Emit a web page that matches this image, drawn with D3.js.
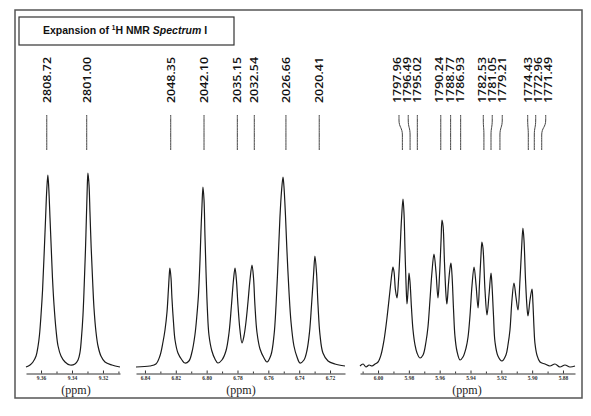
<!DOCTYPE html>
<html>
<head>
<meta charset="utf-8">
<script src="https://cdn.jsdelivr.net/npm/d3@7"></script>
<style>
  body { margin: 0; background: #fff; }
</style>
</head>
<body>
<script>
// ---- data: [ppm, intensity] ----
const leftSpectrum = [
  [9.3697,1],[9.3671,3],[9.3652,6],[9.3632,12],[9.3619,22],[9.3610,33],[9.3600,53],
  [9.3590,78],[9.3581,110],[9.3571,148],[9.3563,178],[9.3556,193],[9.3550,180],
  [9.3542,150],[9.3534,120],[9.3526,90],[9.3516,63],[9.3503,38],[9.3490,22],
  [9.3471,12],[9.3445,6],[9.3413,3],[9.3381,4],[9.3361,8],[9.3348,16],[9.3339,30],
  [9.3329,53],[9.3321,83],[9.3313,118],[9.3306,156],[9.3301,183],[9.3297,195],
  [9.3290,183],[9.3284,156],[9.3276,120],[9.3267,88],[9.3258,60],[9.3245,36],
  [9.3232,22],[9.3213,12],[9.3187,6],[9.3142,3],[9.3090,1]
];
const midSpectrum = [
  [6.8458,1],[6.8368,2],[6.8329,4],[6.8303,12],[6.8283,26],[6.8270,38],[6.8257,56],
  [6.8248,78],[6.8241,96],[6.8238,100],[6.8231,90],[6.8225,70],[6.8215,46],[6.8205,28],
  [6.8186,15],[6.8160,8],[6.8141,5],[6.8115,7],[6.8095,16],[6.8076,33],[6.8063,53],
  [6.8053,73],[6.8043,108],[6.8037,136],[6.8030,163],[6.8024,181],[6.8017,168],
  [6.8011,133],[6.8004,96],[6.7995,58],[6.7985,33],[6.7966,17],[6.7946,9],[6.7927,5],
  [6.7901,8],[6.7875,17],[6.7855,35],[6.7839,63],[6.7826,88],[6.7816,100],[6.7807,88],
  [6.7797,63],[6.7784,38],[6.7771,25],[6.7758,32],[6.7745,46],[6.7732,66],[6.7719,88],
  [6.7706,103],[6.7696,90],[6.7687,63],[6.7674,36],[6.7654,19],[6.7628,10],[6.7609,6],
  [6.7583,13],[6.7563,33],[6.7550,63],[6.7537,106],[6.7525,150],[6.7515,176],
  [6.7505,191],[6.7499,182],[6.7489,153],[6.7479,116],[6.7466,76],[6.7453,46],
  [6.7434,22],[6.7414,11],[6.7395,5],[6.7369,8],[6.7349,18],[6.7333,36],[6.7320,63],
  [6.7307,93],[6.7298,112],[6.7288,96],[6.7278,63],[6.7265,33],[6.7246,15],[6.7213,7],
  [6.7168,4],[6.7103,2]
];
const rightSpectrum = [
  [6.0117,2],[6.0097,4],[6.0078,1],[6.0058,3],[6.0039,2],[6.0019,4],[6.0000,6],
  [5.9981,13],[5.9961,28],[5.9942,50],[5.9922,78],[5.9909,96],[5.9903,101],[5.9896,96],
  [5.9887,78],[5.9877,70],[5.9867,88],[5.9857,118],[5.9848,148],[5.9838,169],[5.9831,153],
  [5.9825,118],[5.9818,83],[5.9812,64],[5.9805,78],[5.9799,95],[5.9792,85],[5.9783,60],
  [5.9773,38],[5.9760,23],[5.9747,15],[5.9728,10],[5.9708,13],[5.9689,26],[5.9676,41],
  [5.9663,68],[5.9650,96],[5.9637,114],[5.9624,96],[5.9611,70],[5.9601,93],[5.9591,128],
  [5.9585,148],[5.9578,142],[5.9569,106],[5.9559,73],[5.9553,64],[5.9543,84],[5.9533,100],
  [5.9527,105],[5.9520,93],[5.9510,58],[5.9501,32],[5.9488,17],[5.9468,8],[5.9449,11],
  [5.9429,20],[5.9416,31],[5.9403,53],[5.9390,83],[5.9377,101],[5.9364,83],[5.9351,60],
  [5.9342,83],[5.9332,113],[5.9326,126],[5.9319,120],[5.9306,78],[5.9293,53],[5.9280,73],
  [5.9267,95],[5.9261,84],[5.9251,53],[5.9241,26],[5.9222,12],[5.9196,7],[5.9170,13],
  [5.9157,23],[5.9144,38],[5.9131,68],[5.9118,85],[5.9105,71],[5.9092,58],[5.9079,88],
  [5.9069,118],[5.9060,140],[5.9053,128],[5.9043,88],[5.9034,62],[5.9027,52],[5.9014,68],
  [5.9001,79],[5.8995,65],[5.8988,40],[5.8982,25],[5.8969,13],[5.8949,6],[5.8917,4],
  [5.8885,2],[5.8852,4],[5.8820,1],[5.8787,3],[5.8755,1],[5.8722,2]
];

// peak labels (Hz), where the label text sits, and the marker line ends (ppm)
const leftPeakHz = ["2808.72", "2801.00"];
const leftPeakText = [9.3563, 9.3305];
const leftPeakTop = [9.3563, 9.3305];
const leftPeakBottom = [9.3563, 9.3305];

const midPeakHz = ["2048.35", "2042.10", "2035.15", "2032.54", "2026.66", "2020.41"];
const midPeakText = [6.8233, 6.8017, 6.7801, 6.7691, 6.7486, 6.7270];
const midPeakTop = [6.8233, 6.8017, 6.7801, 6.7691, 6.7486, 6.7270];
const midPeakBottom = [6.8233, 6.8017, 6.7801, 6.7691, 6.7486, 6.7270];

const rightPeakHz = ["1797.96", "1796.49", "1795.02", "1790.24", "1788.77", "1786.93",
                     "1782.53", "1781.05", "1779.21", "1774.43", "1772.96", "1771.49"];
const rightPeakText = [5.9879, 5.9814, 5.9749, 5.9602, 5.9533, 5.9468,
                       5.9323, 5.9259, 5.9198, 5.9029, 5.8960, 5.8895];
const rightPeakTop = [5.9864, 5.9804, 5.9745, 5.9593, 5.9529, 5.9464,
                      5.9317, 5.9259, 5.9194, 5.9029, 5.8977, 5.8912];
const rightPeakBottom = [5.9842, 5.9792, 5.9745, 5.9593, 5.9529, 5.9464,
                         5.9313, 5.9267, 5.9209, 5.9025, 5.8986, 5.8938];

// axis ticks (ppm)
const leftMajor = [9.36, 9.34, 9.32];
const leftMinor = [9.35, 9.33, 9.31];
const midMajor = [6.84, 6.82, 6.80, 6.78, 6.76, 6.74, 6.72];
const midMinor = [6.83, 6.81, 6.79, 6.77, 6.75, 6.73];
const rightMajor = [6.00, 5.98, 5.96, 5.94, 5.92, 5.90, 5.88];
const rightMinor = [6.01, 5.99, 5.97, 5.95, 5.93, 5.91, 5.89];

const leftDomain = [9.3697, 9.3090];
const midDomain = [6.8458, 6.7103];
const rightDomain = [6.0117, 5.8722];

const titleText = "Expansion of ";
const axisLabel = "(ppm)";

// ---- layout ----
const width = 591, height = 416;
const axisY = 373.5;

const panels = [
  {spec: leftSpectrum, domain: leftDomain, range: [26, 120], major: leftMajor, minor: leftMinor,
   hz: leftPeakHz, text: leftPeakText, top: leftPeakTop, bottom: leftPeakBottom, labelX: 76},
  {spec: midSpectrum, domain: midDomain, range: [136, 345], major: midMajor, minor: midMinor,
   hz: midPeakHz, text: midPeakText, top: midPeakTop, bottom: midPeakBottom, labelX: 241},
  {spec: rightSpectrum, domain: rightDomain, range: [360, 575], major: rightMajor, minor: rightMinor,
   hz: rightPeakHz, text: rightPeakText, top: rightPeakTop, bottom: rightPeakBottom, labelX: 467}
];

const svg = d3.select("body").append("svg")
  .attr("width", width)
  .attr("height", height)
  .attr("viewBox", [0, 0, width, height]);

// outer frame
svg.append("rect")
  .attr("x", 15).attr("y", 10)
  .attr("width", 567).attr("height", 388)
  .attr("fill", "none")
  .attr("stroke", "#555")
  .attr("stroke-width", 1.5);

// title box
svg.append("rect")
  .attr("x", 19).attr("y", 17)
  .attr("width", 215).attr("height", 28)
  .attr("fill", "none")
  .attr("stroke", "#333")
  .attr("stroke-width", 1.2);

const title = svg.append("text")
  .attr("x", 43).attr("y", 34)
  .style("font-family", "'Liberation Sans', Arial, sans-serif")
  .style("font-weight", "bold")
  .style("font-size", "10.5px")
  .attr("fill", "#111");
title.append("tspan").text(titleText);
title.append("tspan").attr("dy", -4).style("font-size", "6.5px").text("1");
title.append("tspan").attr("dy", 4).text("H NMR ");
title.append("tspan").style("font-style", "italic").text("Spectrum");
title.append("tspan").text(" I");

const y_scale = d3.scaleLinear().domain([0, 195]).range([368, 173]);

const bump = d3.line().curve(d3.curveBumpY);

panels.forEach(p => {
  const x_scale = d3.scaleLinear().domain(p.domain).range(p.range);

  // spectrum trace
  const line_generator = d3.line()
    .x(d => x_scale(d[0]))
    .y(d => y_scale(d[1]))
    .curve(d3.curveCatmullRom.alpha(0.5));

  svg.append("path")
    .datum(p.spec)
    .attr("fill", "none")
    .attr("stroke", "#1a1a1a")
    .attr("stroke-width", 1.2)
    .attr("stroke-linejoin", "round")
    .attr("d", line_generator);

  // major ticks + labels
  const x_axis = d3.axisBottom(x_scale)
    .tickValues(p.major)
    .tickSizeInner(-3)
    .tickSizeOuter(0)
    .tickPadding(3)
    .tickFormat(d3.format(".2f"));

  const gx = svg.append("g")
    .attr("transform", `translate(0,${axisY})`)
    .call(x_axis);
  gx.select(".domain").attr("stroke", "#333").attr("stroke-width", 1);
  gx.selectAll(".tick line").attr("stroke", "#333");
  gx.selectAll(".tick text")
    .style("font-family", "'Liberation Serif', 'Times New Roman', serif")
    .style("font-size", "5.5px")
    .style("font-weight", "bold")
    .attr("fill", "#333");

  // minor ticks
  const minor_axis = d3.axisBottom(x_scale)
    .tickValues(p.minor.filter(v => v <= p.domain[0] && v >= p.domain[1]))
    .tickSizeInner(-2)
    .tickSizeOuter(0)
    .tickFormat("");
  const gm = svg.append("g")
    .attr("transform", `translate(0,${axisY})`)
    .call(minor_axis);
  gm.select(".domain").remove();
  gm.selectAll(".tick line").attr("stroke", "#333");

  // (ppm)
  svg.append("text")
    .attr("x", p.labelX)
    .attr("y", 394)
    .attr("text-anchor", "middle")
    .style("font-family", "'Liberation Serif', 'Times New Roman', serif")
    .style("font-size", "12px")
    .attr("fill", "#222")
    .text(axisLabel);

  // peak marker lines and rotated Hz labels
  p.hz.forEach((hz, i) => {
    const xt = x_scale(p.top[i]), xb = x_scale(p.bottom[i]);
    svg.append("path")
      .attr("fill", "none")
      .attr("stroke", "#444")
      .attr("stroke-width", 1)
      .attr("d", bump([[xt, 115], [xt, 120], [xb, 135], [xb, 150]]));

    svg.append("text")
      .attr("transform", `translate(${x_scale(p.text[i])},103) rotate(-90)`)
      .attr("dy", "0.35em")
      .attr("textLength", 46)
      .attr("lengthAdjust", "spacingAndGlyphs")
      .style("font-family", "'Open Sans', sans-serif")
      .style("font-size", "11.4px")
      .style("font-weight", "600")
      .attr("fill", "#111")
      .text(hz);
  });
});
</script>
</body>
</html>
